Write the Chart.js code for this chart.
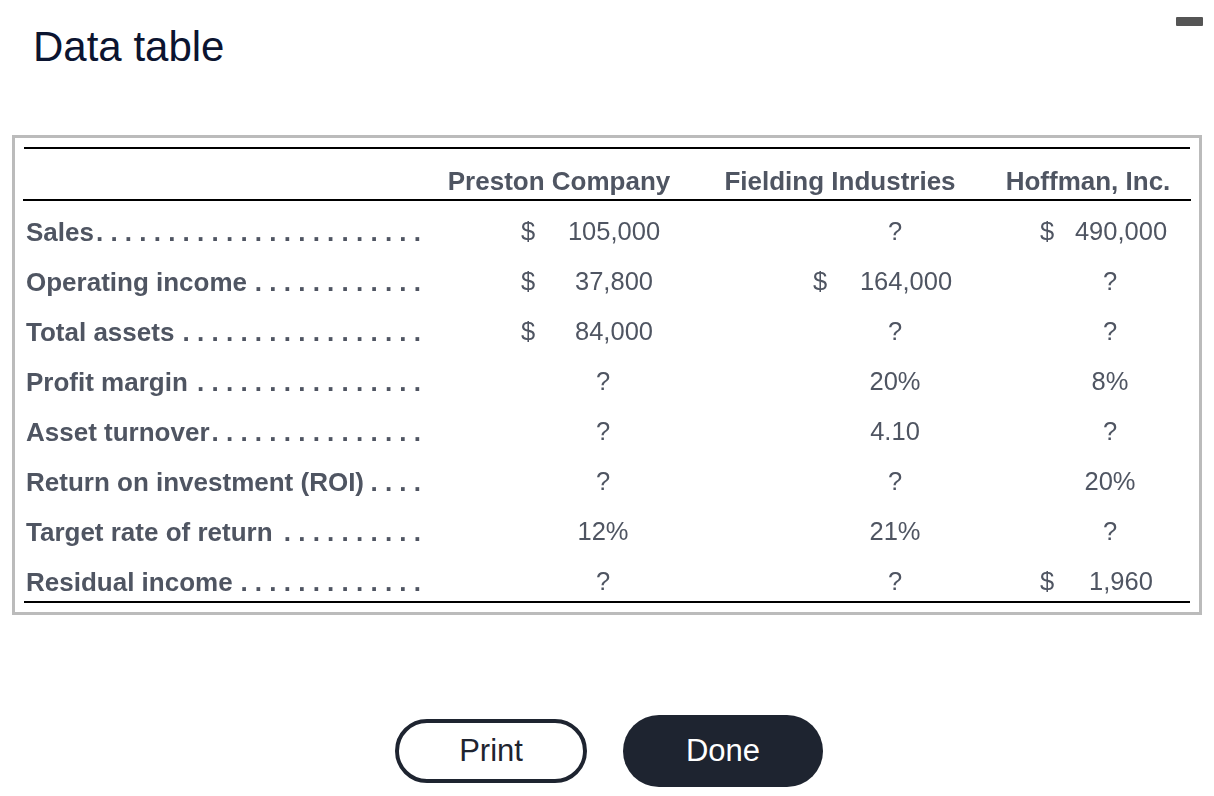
<!DOCTYPE html>
<html>
  <head>
    <title>Data table</title>
    <script src="https://cdn.jsdelivr.net/npm/chart.js@4"></script>
    <style>
      html, body { margin: 0; background: #fff; overflow: hidden; }
      body { width: 1214px; height: 796px; position: relative; font-family: "Liberation Sans", Arial, sans-serif; }
      h1 { position: absolute; left: 33px; top: 23px; margin: 0; font-size: 42px; line-height: 48px; font-weight: 400; color: #0b1430; }
      .minimize { position: absolute; left: 1176px; top: 17px; width: 27px; height: 9px; background: #555; border-radius: 1px; }
      .frame { position: absolute; left: 12px; top: 135px; width: 1184px; height: 474px; border: 3px solid #bbb; }
      #tableChart { position: absolute; left: 0; top: 135px; }
      .btn { position: absolute; box-sizing: border-box; border-radius: 40px; font: 31px "Liberation Sans", Arial, sans-serif; padding: 0; }
      .print { left: 395px; top: 719px; width: 192px; height: 64px; background: #fff; color: #1e2430; border: 4px solid #1e2430; }
      .done { left: 623px; top: 715px; width: 200px; height: 72px; background: #1e2430; color: #fff; border: 0; }
    </style>
  </head>
  <body>
    <h1>Data table</h1>
    <div class="minimize"></div>
    <div class="frame"></div>
    <canvas id="tableChart" width="1214" height="480"></canvas>
    <button class="btn print">Print</button>
    <button class="btn done">Done</button>

    <script>
  const rowLabels = ["Sales", "Operating income", "Total assets", "Profit margin", "Asset turnover", "Return on investment (ROI)", "Target rate of return", "Residual income"];
  const leaderDots = [23, 12, 17, 16, 15, 4, 10, 13];
  const companies = ["Preston Company", "Fielding Industries", "Hoffman, Inc."];
  const prestonValues = ["$105,000", "$37,800", "$84,000", "?", "?", "?", "12%", "?"];
  const fieldingValues = ["?", "$164,000", "?", "20%", "4.10", "?", "21%", "?"];
  const hoffmanValues = ["$490,000", "?", "?", "8%", "?", "20%", "?", "$1,960"];

  // layout, in pixels because the x scale runs 1:1 with the canvas
  const headerCenters = [559, 840, 1088];
  const cellCenters = [603, 895, 1110];
  const dollarOffsets = [-75, -75, -63];
  const textColor = "#4f5562";
  const bodyFont = '25.5px "Liberation Sans", Arial, sans-serif';

  const columns = [prestonValues, fieldingValues, hoffmanValues];

  // cell text, rules and dot leaders
  const tablePlugin = {
    id: "tableCells",
    afterDatasetsDraw(chart) {
      const { ctx, chartArea } = chart;
      ctx.save();
      ctx.fillStyle = "#000";
      ctx.fillRect(chartArea.left, chartArea.top - 53, chartArea.width, 2);
      ctx.fillRect(chartArea.left, chartArea.bottom - 1, chartArea.width, 2);

      ctx.fillStyle = textColor;
      ctx.textBaseline = "middle";
      ctx.font = bodyFont;
      ctx.textAlign = "center";
      columns.forEach((values, c) => {
        const points = chart.getDatasetMeta(c).data;
        values.forEach((text, r) => {
          const { x, y } = points[r];
          if (text[0] === "$") {
            ctx.fillText("$", x + dollarOffsets[c], y);
            ctx.fillText(text.slice(1), x + 11, y);
          } else {
            ctx.fillText(text, x, y);
          }
        });
      });

      ctx.font = 'bold 26px "Liberation Sans", Arial, sans-serif';
      ctx.textAlign = "right";
      leaderDots.forEach((n, r) => {
        const y = chart.scales.y.getPixelForValue(r) + 1;
        ctx.fillText(Array(n).fill(".").join(" "), 421, y);
      });
      ctx.restore();
    }
  };

  new Chart(document.getElementById("tableChart"), {
    type: "scatter",
    data: {
      datasets: columns.map((values, c) => ({
        label: companies[c],
        data: values.map((v, r) => ({ x: cellCenters[c], y: r })),
        pointRadius: 0
      }))
    },
    options: {
      responsive: false,
      animation: false,
      layout: { padding: { left: 24, right: 24, top: 0, bottom: 13 } },
      plugins: { legend: { display: false }, tooltip: { enabled: false } },
      scales: {
        x: {
          type: "linear",
          position: "top",
          min: 24,
          max: 1190,
          afterFit: s => { s.height = 65; s.paddingLeft = 0; s.paddingRight = 0; },
          afterBuildTicks: s => { s.ticks = headerCenters.map(value => ({ value })); },
          grid: { display: false, drawTicks: false },
          border: { color: "#000", width: 2 },
          ticks: {
            autoSkip: false,
            maxRotation: 0,
            padding: 2,
            color: textColor,
            font: { family: '"Liberation Sans", Arial, sans-serif', size: 26, weight: "bold" },
            callback: (v, i) => companies[i]
          }
        },
        y: {
          type: "linear",
          reverse: true,
          min: -0.66,
          max: 7.38,
          afterFit: s => { s.width = 0; s.paddingTop = 0; s.paddingBottom = 0; },
          afterBuildTicks: s => { s.ticks = rowLabels.map((_, value) => ({ value })); },
          grid: { display: false, drawTicks: false },
          border: { display: false },
          ticks: {
            mirror: true,
            autoSkip: false,
            padding: 2,
            labelOffset: 1,
            color: textColor,
            font: { family: '"Liberation Sans", Arial, sans-serif', size: 26, weight: "bold" },
            callback: (v, i) => rowLabels[i]
          }
        }
      }
    },
    plugins: [tablePlugin]
  });
    </script>
  </body>
</html>
